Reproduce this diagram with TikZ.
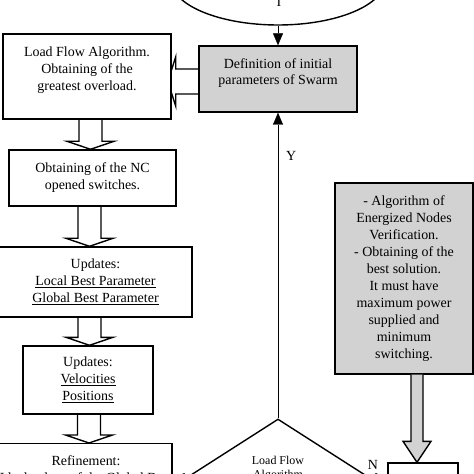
\documentclass[tikz,border=0pt]{standalone}
\usepackage{fontspec}
\setmainfont{Liberation Serif}
\usetikzlibrary{shapes.geometric,arrows.meta,calc}
\pgfdeclarelayer{bg}
\pgfsetlayers{bg,main}
\newcommand\hollowdown[3]{%
  \coordinate (hdA) at (#1,0 |- #2.south);
  \coordinate (hdB) at (#1,0 |- #3.north);
  \draw[blk] ($(hdA)+(-11.5,0)$) -- ($(hdB)+(-11.5,-8)$) -- ($(hdB)+(-23.5,-8)$) -- (hdB)
    -- ($(hdB)+(23.5,-8)$) -- ($(hdB)+(11.5,-8)$) -- ($(hdA)+(11.5,0)$);}
\begin{document}
\begin{tikzpicture}[x=1bp,y=-1bp,line width=1.4bp,
  font=\fontsize{14}{17}\selectfont,
  box/.style={draw,rectangle,inner sep=0pt,align=center},
  gbox/.style={box,fill=gray!35},
  txt/.style={inner sep=0pt,align=center},
  blk/.style={line width=1.4bp,fill=white},
  conn/.style={-{Triangle[length=12bp,width=10bp]}}]
\useasboundingbox (0,0) rectangle (474,474);
\clip (0,0) rectangle (474,474);

% nodes
\node[draw,ellipse,minimum width=214bp,minimum height=90bp,inner sep=0pt] (start) at (278,-20) {};
\node[txt,anchor=base] (starttxt) at (279,7) {I};

\node[gbox,minimum width=158bp,minimum height=66bp] (def) at (278,79) {};
\node[txt,anchor=north] (deftxt) at (278,57.5) {Definition of initial\\parameters of Swarm};

\node[box,fill=white,minimum width=168bp,minimum height=85bp] (lf) at (87,76.5) {};
\node[txt,anchor=north] (lftxt) at (87,46.5) {Load Flow Algorithm.\\Obtaining of the\\greatest overload.};

\node[box,minimum width=167bp,minimum height=56bp] (nc) at (92.5,178) {Obtaining of the NC\\opened switches.};
\node[box,minimum width=193bp,minimum height=70bp] (up1) at (95.5,282) {Updates:\\\underline{Local Best Parameter}\\\underline{Global Best Parameter}};
\node[box,minimum width=130bp,minimum height=68bp] (up2) at (88,380) {Updates:\\\underline{Velocities}\\\underline{Positions}};

\node[box,minimum width=173bp,minimum height=80bp,anchor=north] (ref) at (85.5,443) {};
\node[txt,anchor=north] (reftxt) at (86,455) {Refinement:\\Ideal values of the Global Best};

\node[gbox,minimum width=138bp,minimum height=191bp] (en) at (404,278.5) {- Algorithm of\\Energized Nodes\\Verification.\\- Obtaining of the\\best solution.\\It must have\\maximum power\\supplied and\\minimum\\switching.};

\node[box,fill=white,minimum width=70bp,minimum height=54bp] (rb) at (423,490) {};

\node[draw,diamond,minimum width=184bp,minimum height=118bp,inner sep=0pt] (dec) at (278,478) {};
\node[txt,anchor=north,font=\fontsize{12}{15}\selectfont] (dectxt) at (278,455) {Load Flow\\Algorithm};

% block arrows behind
\begin{pgfonlayer}{bg}
\fill[white] (0,0) rectangle (474,474);
\hollowdown{90.5}{lf}{nc}
\hollowdown{89.5}{nc}{up1}
\hollowdown{89.5}{up1}{up2}
\hollowdown{89}{up2}{ref}
\coordinate (la) at (def.west |- 0,81.5);
\coordinate (lb) at (lf.east |- 0,81.5);
\draw[blk] ($(la)+(0,-12.5)$) -- ($(lb)+(4,-12.5)$) -- ($(lb)+(4,-24.5)$) -- ($(lb)+(-4,0)$)
  -- ($(lb)+(4,24.5)$) -- ($(lb)+(4,12.5)$) -- ($(la)+(0,12.5)$);
\end{pgfonlayer}
\coordinate (ga) at (417,0 |- en.south);
\coordinate (gb) at (417,0 |- rb.north);
\draw[blk,fill=gray!35] ($(ga)+(-6,0)$) -- ($(gb)+(-6,-21)$) -- ($(gb)+(-14,-21)$) -- (gb)
  -- ($(gb)+(14,-21)$) -- ($(gb)+(6,-21)$) -- ($(ga)+(6,0)$);

% connectors
\draw[conn] (start.south) -- (def.north);
\draw[conn] (dec.north) -- node[txt,pos=0.86,right=8bp] (ylbl) {Y} (def.south);
\draw[conn] (dec.west) -- (dec.west -| ref.east);
\draw[conn] (dec.east) -- (dec.east -| rb.west);
\node[txt] (nlbl) at (373,465) {N};
\end{tikzpicture}
\end{document}
